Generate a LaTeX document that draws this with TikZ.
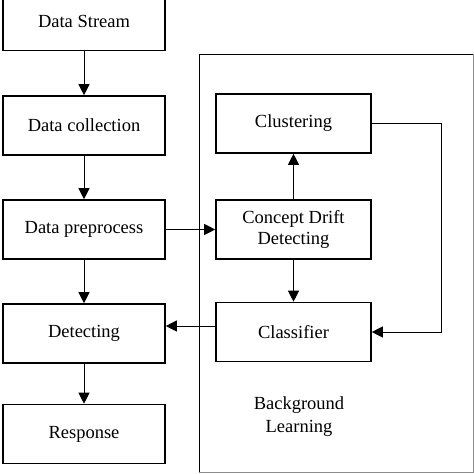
\documentclass[tikz,border=0pt]{standalone}
\usepackage{fontspec}
\setmainfont{Liberation Serif}
\usetikzlibrary{arrows.meta}
\usetikzlibrary{calc}
\tikzset{
  blk/.style={draw=black, line width=1.6pt, minimum height=59pt, inner sep=0pt, align=center,
    font=\fontsize{18.5}{21}\selectfont},
  lblk/.style={blk, minimum width=162pt},
  rblk/.style={blk, minimum width=155pt},
  arr/.style={black, line width=0.9pt, -{Triangle[width=11pt,length=11pt]}}
}

\begin{document}
\begin{tikzpicture}[x=1pt,y=-1pt]
\useasboundingbox (0,0) rectangle (474,474);
\fill[white] (0,0) rectangle (474,474);
% background learning frame
\draw[black, line width=0.9pt] (199,472) -- (199,54) -- (473,54);
\draw[black!45, line width=0.9pt] (473,54) -- (473,472) -- (199,472);
\node[font=\fontsize{18.5}{23}\selectfont, align=center] (bglabel) at (299,417) {Background\\Learning};
% left column
\node[lblk] (stream)  at (84,21) {Data Stream};
\node[lblk] (collect) at (84,125.5) {Data collection};
\node[lblk] (prep)    at (84,229.5) {Data preprocess};
\node[lblk] (detect)  at (84,333.5) {Detecting};
\node[lblk] (resp)    at (84,434) {Response};
% right column
\node[rblk] (cluster) at (293.5,123.5) {Clustering};
\node[rblk] (drift)   at (293.5,229.5) {Concept Drift\\Detecting};
\node[rblk] (classif) at (293.5,332) {Classifier};
\coordinate (loopA) at (441,123.5);
\coordinate (loopB) at (441,332);
\coordinate (back) at ([yshift=6pt]classif.west);
% connectors
\draw[arr] (stream) -- (collect);
\draw[arr] (collect) -- (prep);
\draw[arr] (prep) -- (detect);
\draw[arr] (detect) -- (resp);
\draw[arr] (prep) -- (drift);
\draw[arr] (drift) -- (cluster);
\draw[arr] (drift) -- (classif);
\draw[arr] (back) -- (detect.east |- back);
\draw[arr] (cluster.east) -- (loopA) -- (loopB) -- (classif.east);
\end{tikzpicture}
\end{document}
